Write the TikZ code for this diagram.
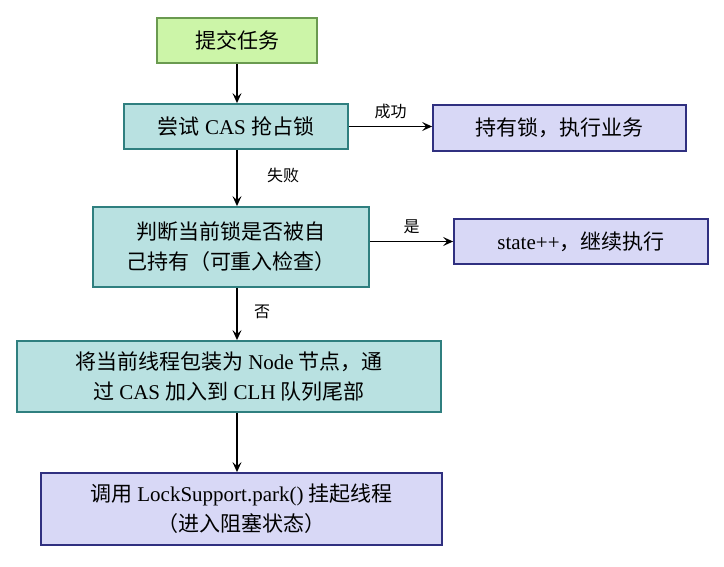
\documentclass[tikz,border=0pt]{standalone}
\usepackage{fontspec}
\setmainfont{Liberation Serif}
\newfontfamily\cjk{Noto Sans CJK SC}
\newcommand\zh[1]{{\cjk #1}}
\definecolor{gfill}{HTML}{CCF5A8}\definecolor{gdraw}{HTML}{6A9A50}
\definecolor{tfill}{HTML}{B9E1E1}\definecolor{tdraw}{HTML}{2F7F7F}
\definecolor{pfill}{HTML}{D8D8F6}\definecolor{pdraw}{HTML}{303080}
\usetikzlibrary{arrows.meta}
\begin{document}
\begin{tikzpicture}[x=1pt,y=-1pt,
 box/.style={draw,line width=1.8pt,font=\fontsize{21}{30}\selectfont,align=center,inner sep=0pt},
 g/.style={box,fill=gfill,draw=gdraw},
 t/.style={box,fill=tfill,draw=tdraw},
 p/.style={box,fill=pfill,draw=pdraw},
 arr/.style={-{Stealth[length=10pt,width=9pt,inset=4pt]},line width=1.5pt},
 lab/.style={font=\fontsize{16}{18}\selectfont}]
\useasboundingbox (0,0) rectangle (724,567);
\node[g,minimum width=160,minimum height=45] (a) at (237,40.5) {\zh{提交任务}};
\node[t,minimum width=224,minimum height=45] (b) at (236,126.5) {\zh{尝试} CAS \zh{抢占锁}};
\node[p,minimum width=253,minimum height=46] (c) at (559.5,128) {\zh{持有锁，执行业务}};
\node[t,minimum width=276,minimum height=80] (d) at (231,247) {\zh{判断当前锁是否被自}\\\zh{己持有（可重入检查）}};
\node[p,minimum width=254,minimum height=45] (e) at (581,241.5) {state++\zh{，继续执行}};
\node[t,minimum width=424,minimum height=71] (f) at (229,376.5) {\zh{将当前线程包装为} Node \zh{节点，通}\\\zh{过} CAS \zh{加入到} CLH \zh{队列尾部}};
\node[p,minimum width=401,minimum height=72] (h) at (241.5,509) {\zh{调用} LockSupport.park() \zh{挂起线程}\\\zh{（进入阻塞状态）}};
\draw[arr] (a.south-|237,0) -- (b.north-|237,0);
\draw[arr] (b.south-|237,0) -- (d.north-|237,0);
\draw[arr] (d.south-|237,0) -- (f.north-|237,0);
\draw[arr] (f.south-|237,0) -- (h.north-|237,0);
\draw[arr] (b.east) -- (c.west|-b.east) node[lab,midway,above=4pt] {\zh{成功}};
\draw[arr] (d.east|-e.west) -- (e.west) node[lab,midway,above=4pt] {\zh{是}};
\node[lab] (l1) at (283,175) {\zh{失败}};
\node[lab] (l2) at (262,312) {\zh{否}};
\end{tikzpicture}
\end{document}
